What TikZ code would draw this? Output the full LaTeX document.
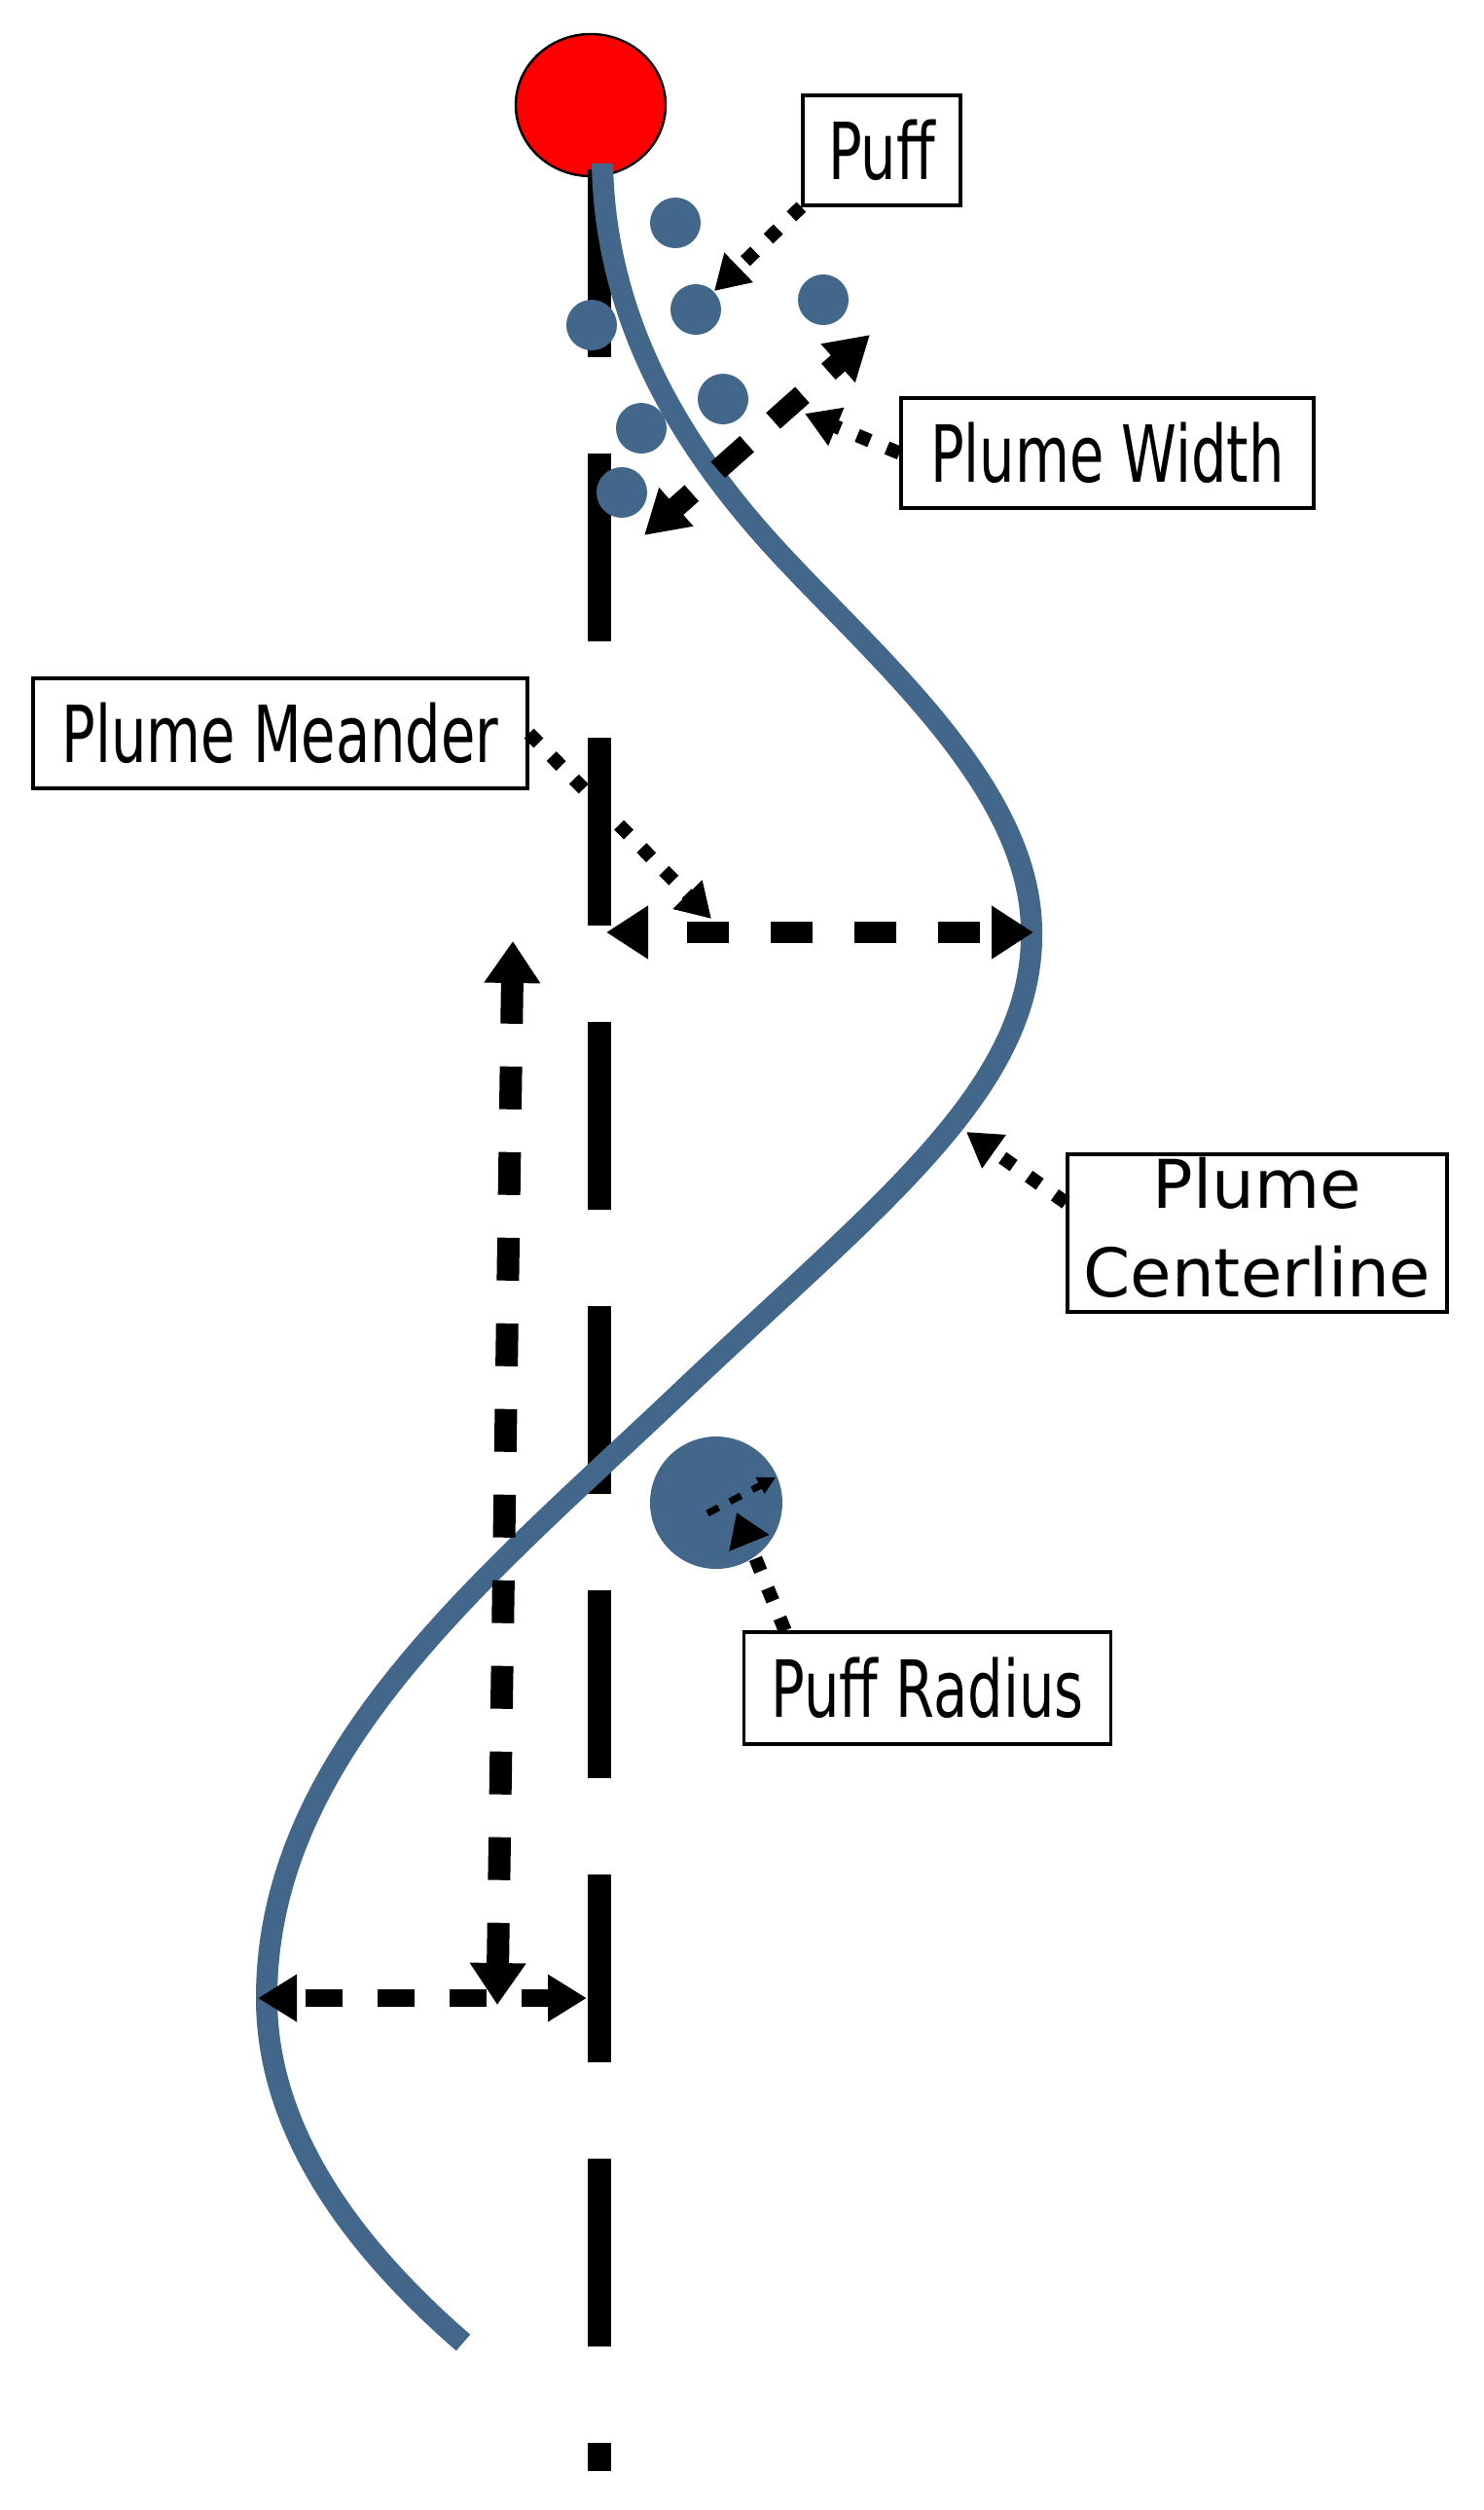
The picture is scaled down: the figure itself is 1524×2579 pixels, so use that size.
\documentclass[tikz,border=0pt]{standalone}
\usepackage{fontspec}
\usepackage{graphicx}
\setmainfont{DejaVu Sans}
\usetikzlibrary{arrows.meta,shapes.geometric}
\definecolor{plume}{RGB}{67,103,139}
\begin{document}
\begin{tikzpicture}[x=0.25pt,y=-0.25pt,
  axisline/.style={line width=6pt, dash pattern=on 48.25pt off 24.75pt},
  plumeline/.style={draw=plume, line width=5.5pt},
  puff/.style={circle, fill=plume, minimum size=13pt, inner sep=0pt},
  lbl/.style={draw, line width=0.8pt, inner sep=0pt, font=\fontsize{20.25}{24}\selectfont},
  pointer/.style={line width=3.5pt, dash pattern=on 3.5pt off 4.75pt, -{Triangle[length=8.75pt,width=10pt]}},
  bigdash/.style={line width=5.5pt, dash pattern=on 10.75pt off 10.75pt, dash phase=10.75pt,
     {Triangle[length=10.75pt,width=13pt]}-{Triangle[length=10.75pt,width=13pt]}},
  ]
\useasboundingbox (0,0) rectangle (1524,2579);
% source
\node[ellipse, draw, line width=0.6pt, fill=red, minimum width=38.5pt, minimum height=36.5pt, inner sep=0pt] (src) at (607,108) {};
% centre axis
\coordinate (axtop) at (616,174);
\coordinate (axbot) at (616,2539);
\draw[axisline] (axtop) -- (axbot);
% plume centreline
\coordinate (c0) at (619,168);
\coordinate (c1) at (780,545);
\coordinate (c2) at (1060,958);
\coordinate (c3) at (700,1430);
\coordinate (c4) at (274,2053);
\coordinate (c5) at (476,2407);
\draw[plumeline] (c0) .. controls (622,330) and (700,453) .. (c1)
   .. controls (880,660) and (1060,800) .. (c2)
   .. controls (1062,1120) and (900,1240) .. (c3)
   .. controls (500,1620) and (274,1800) .. (c4)
   .. controls (274,2195) and (370,2315) .. (c5);
% puffs
\node[puff] (p1) at (694,229) {};
\node[puff] (p2) at (715,318) {};
\node[puff] (p3) at (846,308) {};
\node[puff] (p4) at (608,334) {};
\node[puff] (p5) at (743,410) {};
\node[puff] (p6) at (659,440) {};
\node[puff] (p7) at (639,506) {};
\node[circle, fill=plume, minimum size=34pt, inner sep=0pt] (bigpuff) at (736,1544) {};
% labels
\node[lbl, minimum width=40.5pt, minimum height=28.25pt] (puffbox) at (906,154.5) {\scalebox{0.71}[1]{Puff}};
\node[lbl, minimum width=106pt, minimum height=28.25pt] (widthbox) at (1138,465.5) {\scalebox{0.71}[1]{Plume Width}};
\node[lbl, minimum width=127pt, minimum height=28.25pt] (meanderbox) at (288,753.5) {\scalebox{0.71}[1]{Plume Meander}};
\node[lbl, minimum width=94.25pt, minimum height=28.75pt] (radiusbox) at (953,1734.5) {\scalebox{0.71}[1]{Puff Radius}};
\node[draw, line width=0.8pt, inner sep=0pt, align=center, minimum width=97.5pt, minimum height=40.5pt,
      font=\fontsize{17.25}{22.75}\selectfont] (centerbox) at (1292,1267) {Plume\\Centerline\rule[-3pt]{0pt}{3pt}};
% coordinates of arrow ends
\coordinate (wA) at (662,550);
\coordinate (wB) at (894,344);
\coordinate (wtip) at (827,425);
\coordinate (mL) at (623,958);
\coordinate (mR) at (1062,958);
\coordinate (mtip) at (731,944);
\coordinate (ctip) at (993,1163);
\coordinate (vT) at (527,967);
\coordinate (vB) at (511,2060);
\coordinate (bL) at (265,2053);
\coordinate (bR) at (603,2053);
\coordinate (rA) at (727,1555);
\coordinate (rB) at (797,1518);
\coordinate (rtip) at (757,1554);
% arrows
\draw[line width=5.5pt, dash pattern=on 10pt off 9pt, dash phase=4pt,
      {Triangle[length=11pt,width=12.5pt]}-{Triangle[length=11pt,width=12.5pt]}] (wA) -- (wB);
\draw[bigdash] (mL) -- (mR);
\draw[line width=5.75pt, dash pattern=on 11pt off 11pt,
      {Triangle[length=10.75pt,width=13.75pt]}-{Triangle[length=10.75pt,width=13.75pt]}] (vB) -- (vT);
\draw[line width=4.5pt, dash pattern=on 9.5pt off 9pt, dash phase=15.75pt,
      {Triangle[length=10pt,width=11.5pt]}-{Triangle[length=10pt,width=11.5pt]}] (bL) -- (bR);
\draw[line width=1.75pt, dash pattern=on 3.25pt off 3.25pt, -{Triangle[length=4.5pt,width=4.5pt]}] (rA) -- (rB);
% pointers
\draw[pointer] (puffbox.south west) -- (p2.north east);
\draw[pointer] (widthbox.west) -- (wtip);
\draw[pointer] (meanderbox.east) -- (mtip);
\draw[pointer] (centerbox.171) -- (ctip);
\draw[pointer, -{Triangle[length=8.5pt,width=10.5pt]}] (radiusbox.158) -- (rtip);
\end{tikzpicture}
\end{document}
